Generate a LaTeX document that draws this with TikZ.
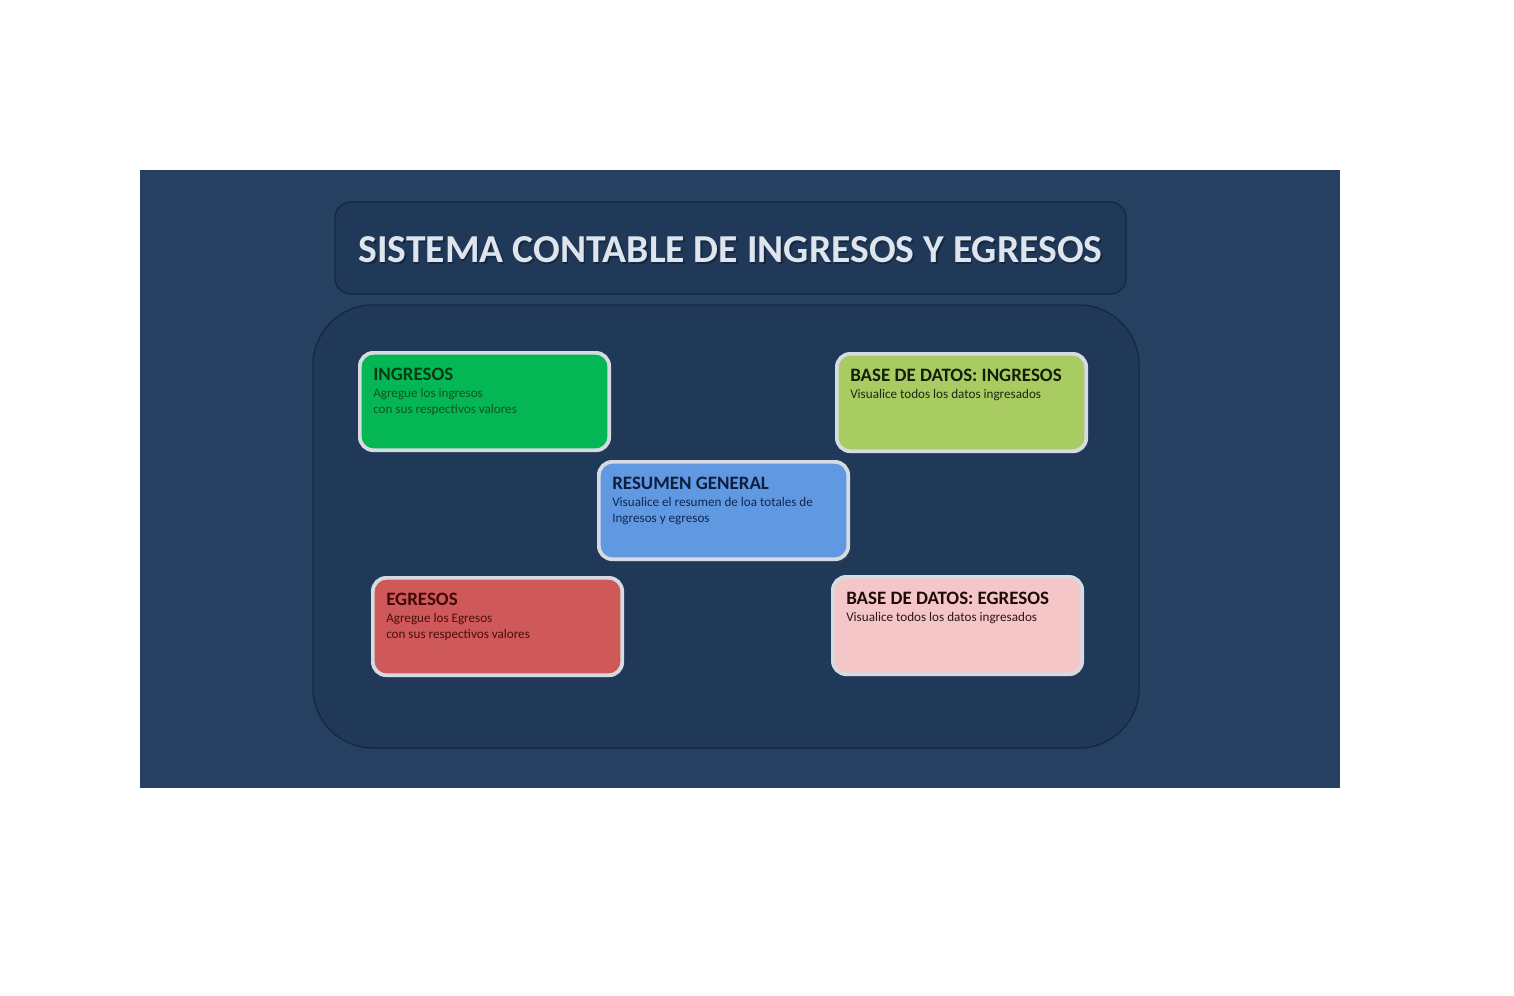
\documentclass[tikz,border=0pt]{standalone}
\usepackage{fontspec}
\setmainfont{Carlito}
\usetikzlibrary{shadows}
\definecolor{bgBlue}{RGB}{37,64,97}
\definecolor{panelBlue}{RGB}{33,57,88}
\definecolor{edgeBlue}{RGB}{22,40,64}
\definecolor{bevelGray}{RGB}{214,219,226}
\definecolor{ingGreen}{RGB}{4,183,84}
\definecolor{baseGreen}{RGB}{168,203,98}
\definecolor{resBlue}{RGB}{96,152,226}
\definecolor{egrRed}{RGB}{207,88,88}
\definecolor{basePink}{RGB}{245,198,200}
\definecolor{titleGray}{RGB}{222,229,238}

\begin{document}
\begin{tikzpicture}[x=0.75pt,y=0.75pt,yscale=-1,xscale=1,
  tile/.style={draw=bevelGray, line width=2.8pt, rounded corners=10pt, anchor=north west,
    minimum width=187pt, minimum height=73pt, inner sep=0pt,
    drop shadow={opacity=0.45, shadow xshift=1.2pt, shadow yshift=-1.5pt}},
  head/.style={anchor=north west, inner sep=0pt, font=\fontsize{14.2}{16}\selectfont\bfseries},
  sub/.style={anchor=north west, inner sep=0pt, align=left, font=\fontsize{9.85}{12}\selectfont}]
\useasboundingbox (0,0) rectangle (1514,996);

% background
\fill [bgBlue] (140,170) rectangle (1340,788);
% title frame
\draw [edgeBlue, line width=1pt, fill=panelBlue, rounded corners=12pt] (335,202) rectangle (1126,294);
\node (titleShadow) at (732,252) [inner sep=0pt, text=edgeBlue, font=\fontsize{29.7}{34}\selectfont\bfseries] {SISTEMA CONTABLE DE INGRESOS Y EGRESOS};
\node (title) at (730.5,250) [inner sep=0pt, text=titleGray, font=\fontsize{29.7}{34}\selectfont\bfseries] {SISTEMA CONTABLE DE INGRESOS Y EGRESOS};
% outer panel
\draw [edgeBlue, line width=1pt, fill=panelBlue, rounded corners=45pt] (313,305) rectangle (1139,748);

% INGRESOS
\node (ingresos) at (358,351) [tile, fill=ingGreen] {};
\node (ingresosHead) at (373,368) [head, text={rgb,255:red,8;green,58;blue,20}] {INGRESOS};
\node (ingresosSub) at (373,388) [sub, text={rgb,255:red,16;green,84;blue,36}] {Agregue los ingresos\\con sus respectivos valores};

% BASE DE DATOS: INGRESOS
\node (baseIng) at (835,352) [tile, fill=baseGreen] {};
\node (baseIngHead) at (850,369) [head, text={rgb,255:red,20;green,30;blue,10}] {BASE DE DATOS: INGRESOS};
\node (baseIngSub) at (850,389) [sub, text={rgb,255:red,30;green,40;blue,16}] {Visualice todos los datos ingresados};

% RESUMEN GENERAL
\node (resumen) at (597,460) [tile, fill=resBlue] {};
\node (resumenHead) at (612,477) [head, text={rgb,255:red,14;green,30;blue,62}] {RESUMEN GENERAL};
\node (resumenSub) at (612,497) [sub, text={rgb,255:red,18;green,40;blue,80}] {Visualice el resumen de loa totales de\\Ingresos y egresos};

% EGRESOS
\node (egresos) at (371,576) [tile, fill=egrRed] {};
\node (egresosHead) at (386,593) [head, text={rgb,255:red,66;green,8;blue,8}] {EGRESOS};
\node (egresosSub) at (386,613) [sub, text={rgb,255:red,74;green,14;blue,14}] {Agregue los Egresos\\con sus respectivos valores};

% BASE DE DATOS: EGRESOS
\node (baseEgr) at (831,575) [tile, fill=basePink] {};
\node (baseEgrHead) at (846,592) [head, text={rgb,255:red,30;green,10;blue,10}] {BASE DE DATOS: EGRESOS};
\node (baseEgrSub) at (846,612) [sub, text={rgb,255:red,44;green,22;blue,22}] {Visualice todos los datos ingresados};

\end{tikzpicture}
\end{document}
